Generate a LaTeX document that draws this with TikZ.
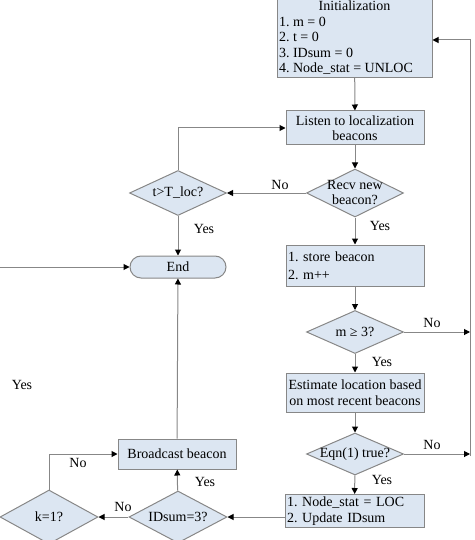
\documentclass[tikz,border=0pt]{standalone}
\usepackage{fontspec}
\setmainfont{Liberation Serif}
\usepackage{tikz}
\usetikzlibrary{arrows.meta, shapes.geometric}
\frenchspacing

\definecolor{boxfill}{RGB}{220,230,242}
\definecolor{linegray}{RGB}{135,135,135}

\begin{document}
\begin{tikzpicture}[x=1pt, y=-1pt,
      mybox/.style={
         rectangle,
         draw=linegray,
         fill=boxfill,
         line width=1pt,
         inner sep=2pt,
         minimum width=138pt,
         align=center,
         font=\fontsize{14}{15.5}\selectfont},
      mydiamond/.style={
         diamond,
         draw=linegray,
         fill=boxfill,
         line width=1pt,
         inner sep=0pt,
         aspect=2,
         minimum width=97pt,
         minimum height=46pt,
         align=center,
         font=\fontsize{14}{15}\selectfont},
      myend/.style={
         rectangle,
         rounded corners=11pt,
         draw=linegray,
         fill=boxfill,
         line width=1pt,
         minimum width=96pt,
         minimum height=22pt,
         font=\fontsize{14}{15}\selectfont},
      myarrow/.style={draw=linegray, line width=1pt,
         -{Triangle[length=6pt,width=6pt,color=black]}},
      mylabel/.style={inner sep=0pt, font=\fontsize{14}{15}\selectfont}
      ]
      \useasboundingbox (0,0) rectangle (474,540);
      \clip (0,0) rectangle (474,540);

      \node[mybox, anchor=south, minimum width=155pt, inner ysep=3pt, align=left,
            font=\fontsize{14}{15.5}\selectfont] at (354.5,78) (init)
            {\makebox[151pt]{Initialization}\\1. m = 0\\2. t = 0\\3. IDsum = 0\\4. Node\_stat = UNLOC};
      \node[mybox, minimum height=34pt] at (355,128) (listen) {Listen to localization\\beacons};
      \node[mydiamond, minimum height=48pt] at (355,193)
            (recv) {\makebox[0pt]{Recv new}\\\makebox[0pt]{beacon?}};
      \node[mydiamond, minimum height=45pt] at (178,193) (tloc) {\makebox[0pt]{t>T\_loc?}};
      \node[myend] at (178,267) (end) {End};
      \node[mybox, minimum height=41pt, text width=134pt, align=left,
            font=\fontsize{14}{18}\selectfont] at (355,265.5) (store)
            {1. store beacon\\2. m++};
      \node[mydiamond, minimum height=43pt] at (355,332) (mge) {\makebox[0pt]{m ≥ 3?}};
      \node[mybox, minimum height=39pt] at (355,392.5) (est) {Estimate location based\\on most recent beacons};
      \node[mydiamond, minimum height=42pt] at (355,454) (eqn) {\makebox[0pt]{Eqn(1) true?}};
      \node[mybox, minimum height=33pt, minimum width=139pt, text width=135pt, align=left] at (354.5,511) (nstat)
            {1. Node\_stat = LOC\\2. Update IDsum};
      \node[mydiamond, minimum width=98pt, minimum height=52pt] at (178,517) (idsum) {\makebox[0pt]{IDsum=3?}};
      \node[mydiamond, minimum width=98pt, minimum height=54pt] at (49,517) (kone) {\makebox[0pt]{k=1?}};
      \node[mybox, minimum width=118pt, minimum height=30pt] at (177,454) (bcast) {Broadcast beacon};

      \coordinate (lin) at (-2,267);
      \coordinate (rbot) at (470,456);
      \coordinate (rtop) at (470,40);

      % straight connectors: start/end
      \foreach \i/\j in {init/listen, listen/recv, recv/tloc, tloc/end,
                         recv/store, store/mge, mge/est, est/eqn, eqn/nstat,
                         idsum/kone, idsum/bcast, bcast/end, lin/end}
         \draw[myarrow] (\i) -- (\j);

      \draw[myarrow] (tloc.north) |- (listen.west);
      \draw[myarrow] (kone.north) |- (bcast.west);
      \draw[myarrow] (mge.east) -- (mge.east -| rbot);
      \draw[myarrow] (eqn.east) -- (eqn.east -| rbot);
      \draw[myarrow] (rbot) -- (rtop) -- (rtop -| init.east);
      \draw[myarrow] (nstat.west |- idsum.east) -- (idsum.east);

      % labels: name/x/y/text
      \foreach \n/\x/\y/\txt in {
        lno/280/185/No, lyes/204/229/Yes, lyesb/380/226/Yes,
        lnoc/432/323/No, lyesd/382/362/Yes, lnoe/432/445/No,
        lyesf/382/480/Yes, lnog/123/507/No, lnoh/78/463/No,
        lyesi/205/482/Yes, lyesj/22/385/Yes}
         \node[mylabel] (\n) at (\x,\y) {\txt};

    \end{tikzpicture}
\end{document}
